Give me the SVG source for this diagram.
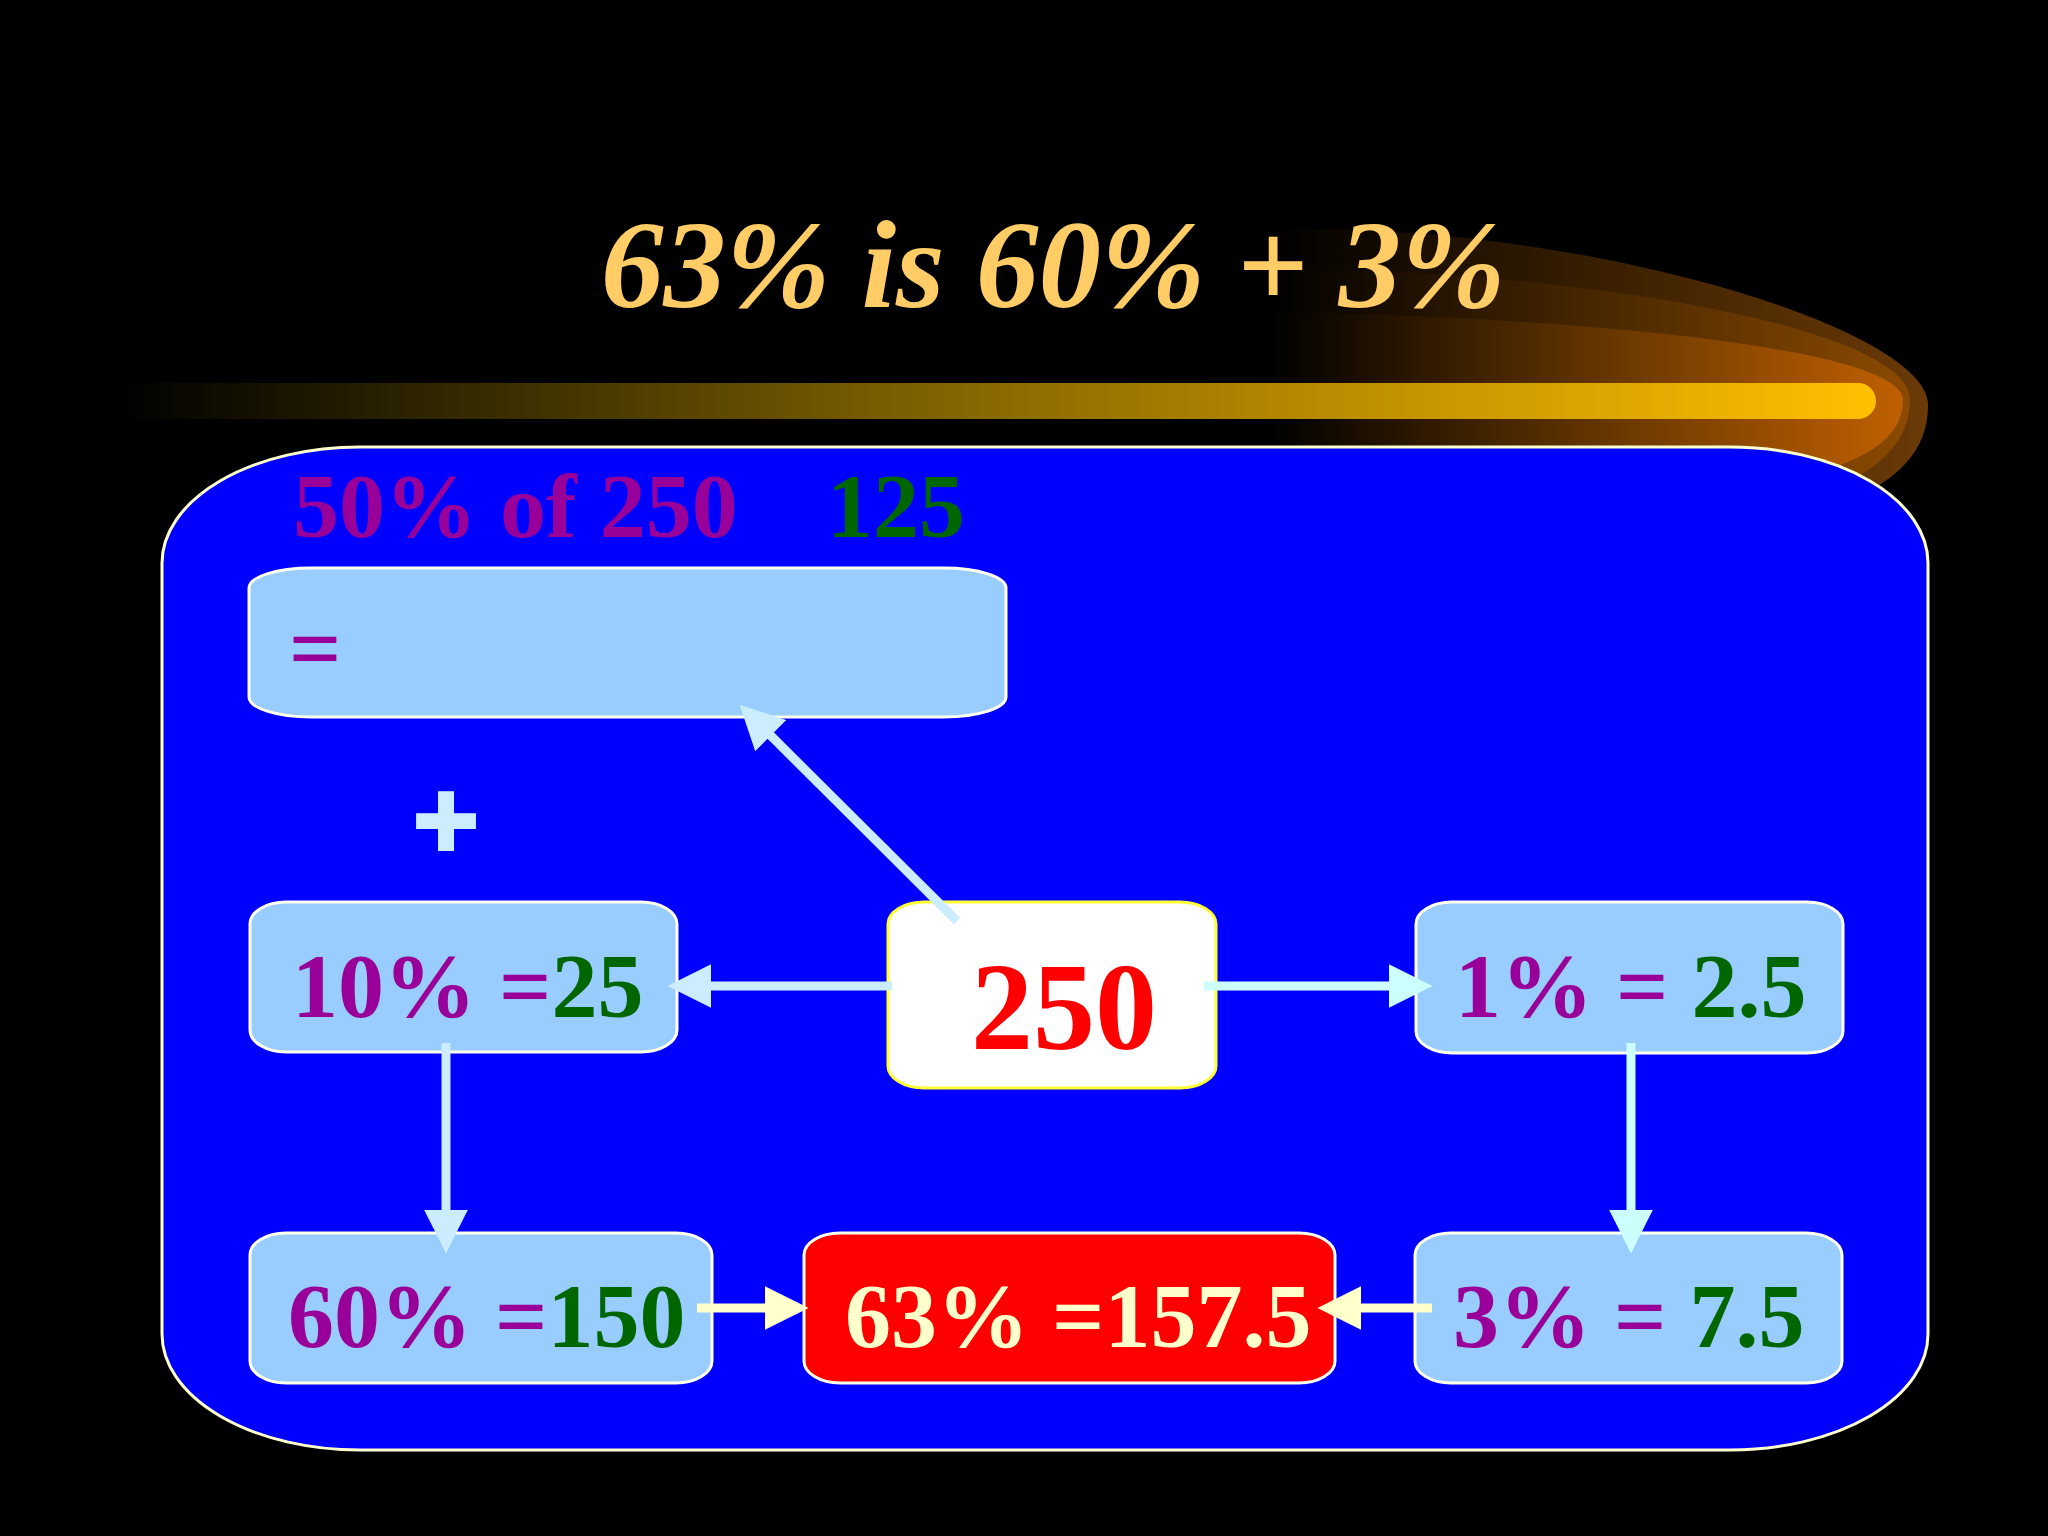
<svg xmlns="http://www.w3.org/2000/svg" width="2048" height="1536" viewBox="0 0 2048 1536">
<defs>
<style>
.t{font-family:"Liberation Serif","Times New Roman",serif;font-weight:bold;}
.box{fill:#99CCFF;stroke:#FFFFEE;stroke-width:3;}
.p{fill:#990099;}
.g{fill:#006600;}
.ln{fill:none;stroke-width:9;}
</style>
<linearGradient id="barG" gradientUnits="userSpaceOnUse" x1="118" y1="0" x2="1876" y2="0">
<stop offset="0" stop-color="#000000"/>
<stop offset="0.23" stop-color="#3d3000"/>
<stop offset="0.5" stop-color="#8a6a00"/>
<stop offset="0.75" stop-color="#c89600"/>
<stop offset="1" stop-color="#ffc000"/>
</linearGradient>
<linearGradient id="sw1" gradientUnits="userSpaceOnUse" x1="1270" y1="0" x2="1930" y2="0">
<stop offset="0" stop-color="#000000"/>
<stop offset="0.55" stop-color="#3e2200"/>
<stop offset="1" stop-color="#6b3a08"/>
</linearGradient>
<linearGradient id="sw2" gradientUnits="userSpaceOnUse" x1="1270" y1="0" x2="1910" y2="0">
<stop offset="0" stop-color="#000000"/>
<stop offset="0.55" stop-color="#4e2a00"/>
<stop offset="1" stop-color="#8b4a00"/>
</linearGradient>
<linearGradient id="sw3" gradientUnits="userSpaceOnUse" x1="1270" y1="0" x2="1903" y2="0">
<stop offset="0" stop-color="#000000"/>
<stop offset="0.55" stop-color="#6a3800"/>
<stop offset="1" stop-color="#c06000"/>
</linearGradient>
<marker id="hB" markerUnits="userSpaceOnUse" markerWidth="44" markerHeight="44" viewBox="0 0 42 42" refX="30" refY="21" orient="auto"><path d="M0,0 L42,21 L0,42 z" fill="#CCECFF"/></marker>
<marker id="hC" markerUnits="userSpaceOnUse" markerWidth="44" markerHeight="44" viewBox="0 0 42 42" refX="30" refY="21" orient="auto"><path d="M0,0 L42,21 L0,42 z" fill="#CCFFFF"/></marker>
<marker id="hY" markerUnits="userSpaceOnUse" markerWidth="44" markerHeight="44" viewBox="0 0 42 42" refX="30" refY="21" orient="auto"><path d="M0,0 L42,21 L0,42 z" fill="#FFFFCC"/></marker>
</defs>
<rect x="0" y="0" width="2048" height="1536" fill="#000000"/>
<g id="swoosh">
<path d="M1250,229 L1306,229 C1600,229 1928,330 1928,405 C1928,450 1900,480 1840,505 L1250,505 Z" fill="url(#sw1)"/>
<path d="M1250,268 L1280,268 C1600,272 1910,330 1910,400 C1910,440 1880,470 1830,490 L1250,490 Z" fill="url(#sw2)"/>
<path d="M1250,312 L1280,312 C1600,318 1903,350 1903,400 C1903,430 1880,450 1840,465 L1250,465 Z" fill="url(#sw3)"/>
<rect x="118" y="383" width="1758" height="36" rx="18" ry="18" fill="url(#barG)"/>
</g>
<g id="title">
<text class="t" x="601" y="307" font-size="125" font-style="italic" fill="#FFCC66">63% is 60% + 3%</text>
</g>
<g id="panel">
<rect x="162" y="447" width="1766" height="1003" rx="198" ry="116" fill="#0000FF" stroke="#FFFFCC" stroke-width="3"/>
</g>
<g id="label50">
<text class="t p" x="293" y="537" font-size="92">50% of 250</text>
<text class="t g" x="827" y="537" font-size="92">125</text>
</g>
<g id="node-half">
<rect class="box" x="249" y="568" width="757" height="149" rx="62" ry="20"/>
<text class="t p" x="289" y="679" font-size="92">=</text>
</g>
<g id="plus">
<text x="446" y="848" font-family="DejaVu Sans, sans-serif" font-weight="bold" font-size="86" text-anchor="middle" fill="#CCECFF" stroke="#CCECFF" stroke-width="6">+</text>
</g>
<g id="node-10">
<rect class="box" x="250" y="902" width="427" height="150" rx="36" ry="22"/>
<text class="t p" x="292" y="1017" font-size="92">10% =<tspan class="g">25</tspan></text>
</g>
<g id="node-250">
<rect x="888" y="902" width="328" height="186" rx="36" ry="22" fill="#FFFFFF" stroke="#FFFF33" stroke-width="3"/>
<text class="t" x="971" y="1049" font-size="124" fill="#FF0000">250</text>
</g>
<g id="node-1">
<rect class="box" x="1416" y="902" width="427" height="151" rx="36" ry="22"/>
<text class="t p" x="1455" y="1017" font-size="92">1% = <tspan class="g">2.5</tspan></text>
</g>
<g id="node-60">
<rect class="box" x="250" y="1233" width="462" height="150" rx="36" ry="22"/>
<text class="t p" x="288" y="1347" font-size="92">60% =<tspan class="g">150</tspan></text>
</g>
<g id="node-63">
<rect x="804" y="1233" width="531" height="150" rx="36" ry="22" fill="#FF0000" stroke="#FFFFEE" stroke-width="3"/>
<text class="t" x="845" y="1347" font-size="92" fill="#FFFFCC">63% =157.5</text>
</g>
<g id="node-3">
<rect class="box" x="1415" y="1233" width="427" height="150" rx="36" ry="22"/>
<text class="t p" x="1453" y="1347" font-size="92">3% = <tspan class="g">7.5</tspan></text>
</g>
<g id="connectors">
<line class="ln" x1="957" y1="921" x2="748.5" y2="713.5" stroke="#CCECFF" marker-end="url(#hB)"/>
<line class="ln" x1="892" y1="986" x2="680" y2="986" stroke="#CCECFF" marker-end="url(#hB)"/>
<line class="ln" x1="1204" y1="986" x2="1420" y2="986" stroke="#CCFFFF" marker-end="url(#hC)"/>
<line class="ln" x1="446" y1="1043" x2="446" y2="1241" stroke="#CCECFF" marker-end="url(#hB)"/>
<line class="ln" x1="1631" y1="1043" x2="1631" y2="1241" stroke="#CCFFFF" marker-end="url(#hC)"/>
<line class="ln" x1="697" y1="1308" x2="796" y2="1308" stroke="#FFFFCC" marker-end="url(#hY)"/>
<line class="ln" x1="1432" y1="1308" x2="1330" y2="1308" stroke="#FFFFCC" marker-end="url(#hY)"/>
</g>
</svg>
